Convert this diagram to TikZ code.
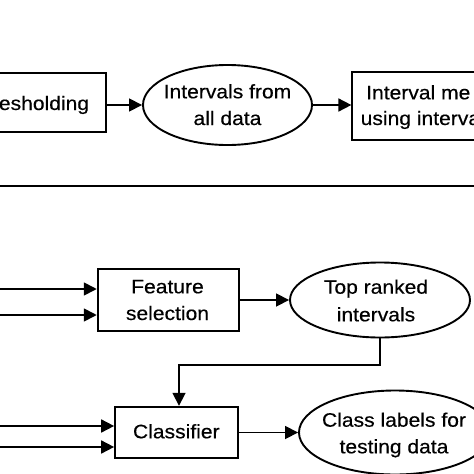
\documentclass[tikz,border=0pt]{standalone}
\usepackage{fontspec}
\setmainfont{Liberation Sans}[FakeStretch=1.08,FakeBold=0.4]
\usetikzlibrary{arrows.meta,shapes.geometric}
\tikzset{
  box/.style={draw, line width=1.8pt, rectangle, inner sep=0pt},
  oval/.style={draw, line width=1.9pt, ellipse, inner sep=0pt},
  lbl/.style={anchor=base, inner sep=0pt, font=\fontsize{19.5}{27}\selectfont},
  lblw/.style={lbl, anchor=base west},
  lble/.style={lbl, anchor=base east},
  arr/.style={line width=1.7pt, -{Triangle[length=13pt,width=13pt]}},
  sep/.style={line width=1.8pt}
}
\begin{document}
\begin{tikzpicture}[x=1pt,y=-1pt]
\useasboundingbox (0,0) rectangle (474,474);
\clip (0,0) rectangle (474,474);
% top row
\node[box, minimum width=156pt, minimum height=58.4pt] (thr) at (28,102.5) {};
\node[lble] (thrt) at (89.3,110) {esholding};
\node[oval, minimum width=169pt, minimum height=80pt] (ell1) at (227.5,105) {};
\node[lbl] (ell1a) at (227.5,98.3) {Intervals from};
\node[lbl] (ell1b) at (227.5,125) {all data};
\node[box, minimum width=159.4pt, minimum height=68.3pt] (merge) at (432,105.85) {};
\node[lblw] (mergea) at (366,99.3) {Interval me};
\node[lblw] (mergeb) at (360.5,125) {using interva};
\draw[arr] (thr.east |- ell1.west) -- (ell1.west);
\draw[arr] (ell1.east) -- (merge.west |- ell1.east);
% separator
\coordinate (sepL) at (-5,186);
\coordinate (sepR) at (480,186);
\draw[sep] (sepL) -- (sepR);
% bottom part
\node[box, minimum width=141.3pt, minimum height=62.7pt] (feat) at (168.3,300) {};
\node[lbl] (feata) at (167.5,293.3) {Feature};
\node[lbl] (featb) at (167.5,320) {selection};
\node[oval, minimum width=180pt, minimum height=75pt] (ell2) at (380,300) {};
\node[lbl] (ell2a) at (376,293.7) {Top ranked};
\node[lbl] (ell2b) at (376,321.3) {intervals};
\node[box, minimum width=123.3pt, minimum height=51pt] (clf) at (176.7,432.2) {};
\node[lbl] (clft) at (176.3,438.3) {Classifier};
\node[oval, minimum width=192pt, minimum height=84pt] (ell3) at (395,432.5) {};
\node[lbl] (ell3a) at (394,426.7) {Class labels for};
\node[lbl] (ell3b) at (394,453.3) {testing data};
% inputs
\coordinate (in1) at (-5,289);
\coordinate (in2) at (-5,315);
\coordinate (in3) at (-5,426);
\coordinate (in4) at (-5,447);
\draw[arr] (in1) -- (in1 -| feat.west);
\draw[arr] (in2) -- (in2 -| feat.west);
\draw[arr] (in3) -- (in3 -| clf.west);
\draw[arr] (in4) -- (in4 -| clf.west);
% flows
\draw[arr] (feat.east) -- (ell2.west);
\draw[arr] (clf.east |- ell3.west) -- (ell3.west);
\coordinate (bend) at (179,365);
\draw[arr] (ell2.south) |- (bend) -- (bend |- clf.north);
\end{tikzpicture}
\end{document}
